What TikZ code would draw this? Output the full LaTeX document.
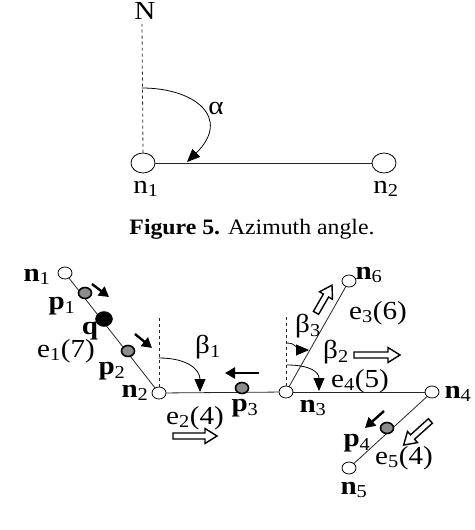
\documentclass[tikz,border=0pt]{standalone}
\usepackage{fontspec}
\newfontfamily\tf{Liberation Serif}
\usetikzlibrary{arrows.meta,shapes.geometric,backgrounds}
\begin{document}
\begin{tikzpicture}[x=1pt,y=-1pt,
  lbl/.style={font=\tf\fontsize{26}{30}\selectfont, inner sep=0pt, xscale=1.12},
  captext/.style={font=\tf\fontsize{22}{26}\selectfont, inner sep=0pt, xscale=1.08},
  bignode/.style={draw, ellipse, fill=white, minimum width=24pt, minimum height=20pt, inner sep=0pt, line width=0.8pt},
  smallnode/.style={draw, ellipse, fill=white, minimum width=14pt, minimum height=12pt, inner sep=0pt, line width=0.8pt},
  pnode/.style={draw, ellipse, fill=black!45, minimum width=13pt, minimum height=11pt, inner sep=0pt, line width=1.6pt},
  qnode/.style={draw, ellipse, fill=black, minimum width=17pt, minimum height=15pt, inner sep=0pt},
  road/.style={line width=0.8pt, black!85},
  vdash/.style={dashed, line width=0.8pt, black!85},
  turn/.style={line width=0.8pt, -{Triangle[length=13pt,width=11pt]}},
  barrow/.style={line width=2.4pt, -{Triangle[length=10pt,width=11pt]}},
  harrow/.pic={\draw[line width=1.4pt, fill=white] (-#1,-3)--(#1-12,-3)--(#1-12,-7.5)--(#1,0)--(#1-12,7.5)--(#1-12,3)--(-#1,3)--cycle;}
]
\useasboundingbox (0,0) rectangle (474,530);

% ---------- Figure 5 ----------
\node[bignode] (tn1) at (143,163) {};
\node[bignode] (tn2) at (384,163) {};
\coordinate (north) at (142,24);
\coordinate (aS) at (142,88);
\coordinate (aE) at (187,162);
\node[lbl] (tN) at (145,11) {N};
\node[lbl] (alpha) at (216,108) {α};
\node[lbl] (tl1) at (146,189) {n\textsubscript{1}};
\node[lbl] (tl2) at (386,189) {n\textsubscript{2}};
\draw[vdash] (tn1.north) -- (north);
\draw[road] (tn1) -- (tn2);
\draw[turn] (aS) .. controls (195,88) and (232,118) .. (aE);
\node[captext] (cap5) at (252,229) {\textbf{Figure 5.} Azimuth angle.};

% ---------- Figure 6 ----------
\node[smallnode] (n1) at (65,273) {};
\node[smallnode] (n2) at (159,393) {};
\node[smallnode] (n3) at (286,392) {};
\node[smallnode] (n4) at (432,392) {};
\node[smallnode] (n5) at (349,468) {};
\node[smallnode] (n6) at (349,281) {};
\node[pnode] (p1) at (85,293) {};
\node[qnode] (q) at (104,319) {};
\node[pnode] (p2) at (128,351) {};
\node[pnode] (p3) at (242,388) {};
\node[pnode] (p4) at (387,428) {};
\begin{scope}[on background layer]
  \draw[road] (n1) -- (n2);
  \draw[road] (n2) -- (n3);
  \draw[road] (n3) -- (n4);
  \draw[road] (n3) -- (n6);
  \draw[road] (n4) -- (n5);
\end{scope}

% dashed references and angles
\coordinate (d2) at (159,317);
\coordinate (d3) at (286,317);
\draw[vdash] (n2.north) -- (d2);
\draw[vdash] (n3.north) -- (d3);
\coordinate (b1S) at (159,358);
\coordinate (b1E) at (200,392);
\draw[turn] (b1S) .. controls (188,358) and (200,370) .. (b1E);
\coordinate (b3S) at (287,343);
\coordinate (b3E) at (309,350);
\draw[turn] (b3S) .. controls (296,343) and (299,350) .. (b3E);
\coordinate (b2S) at (287,365);
\coordinate (b2E) at (319,391);
\draw[turn] (b2S) .. controls (310,365) and (319,372) .. (b2E);

% black movement arrows
\coordinate (a1s) at (92,284); \coordinate (a1e) at (109,297);
\coordinate (a2s) at (135,334); \coordinate (a2e) at (152,348);
\coordinate (a3s) at (259,373); \coordinate (a3e) at (225,373);
\coordinate (a4s) at (384,411); \coordinate (a4e) at (365,428);
\draw[barrow] (a1s) -- (a1e);
\draw[barrow] (a2s) -- (a2e);
\draw[barrow] (a3s) -- (a3e);
\draw[barrow] (a4s) -- (a4e);

% hollow direction arrows
\pic at (195,436) {harrow=22};
\pic[rotate=60] at (324,299) {harrow=16};
\pic at (377,355) {harrow=23};
\pic[rotate=222] at (417,433) {harrow=18};

% labels
\node[lbl] (l1) at (37,277) {\textbf{n}\textsubscript{1}};
\node[lbl] (l2) at (135,393) {\textbf{n}\textsubscript{2}};
\node[lbl] (l3) at (313,408) {\textbf{n}\textsubscript{3}};
\node[lbl] (l4) at (458,394) {\textbf{n}\textsubscript{4}};
\node[lbl] (l5) at (354,490) {\textbf{n}\textsubscript{5}};
\node[lbl] (l6) at (369,275) {\textbf{n}\textsubscript{6}};
\node[lbl] (lp1) at (62,306) {\textbf{p}\textsubscript{1}};
\node[lbl] (lp2) at (112,371) {\textbf{p}\textsubscript{2}};
\node[lbl] (lp3) at (245,408) {\textbf{p}\textsubscript{3}};
\node[lbl] (lp4) at (357,443) {\textbf{p}\textsubscript{4}};
\node[lbl] (lq) at (90,331) {\textbf{q}};
\node[lbl] (e1) at (66,351) {e\textsubscript{1}(7)};
\node[lbl] (e2) at (195,418) {e\textsubscript{2}(4)};
\node[lbl] (e3) at (378,313) {e\textsubscript{3}(6)};
\node[lbl] (e4) at (360,381) {e\textsubscript{4}(5)};
\node[lbl] (e5) at (404,458) {e\textsubscript{5}(4)};
\node[lbl] (beta1) at (208,347) {β\textsubscript{1}};
\node[lbl] (beta2) at (336,352) {β\textsubscript{2}};
\node[lbl] (beta3) at (308,326) {β\textsubscript{3}};
\end{tikzpicture}
\end{document}
